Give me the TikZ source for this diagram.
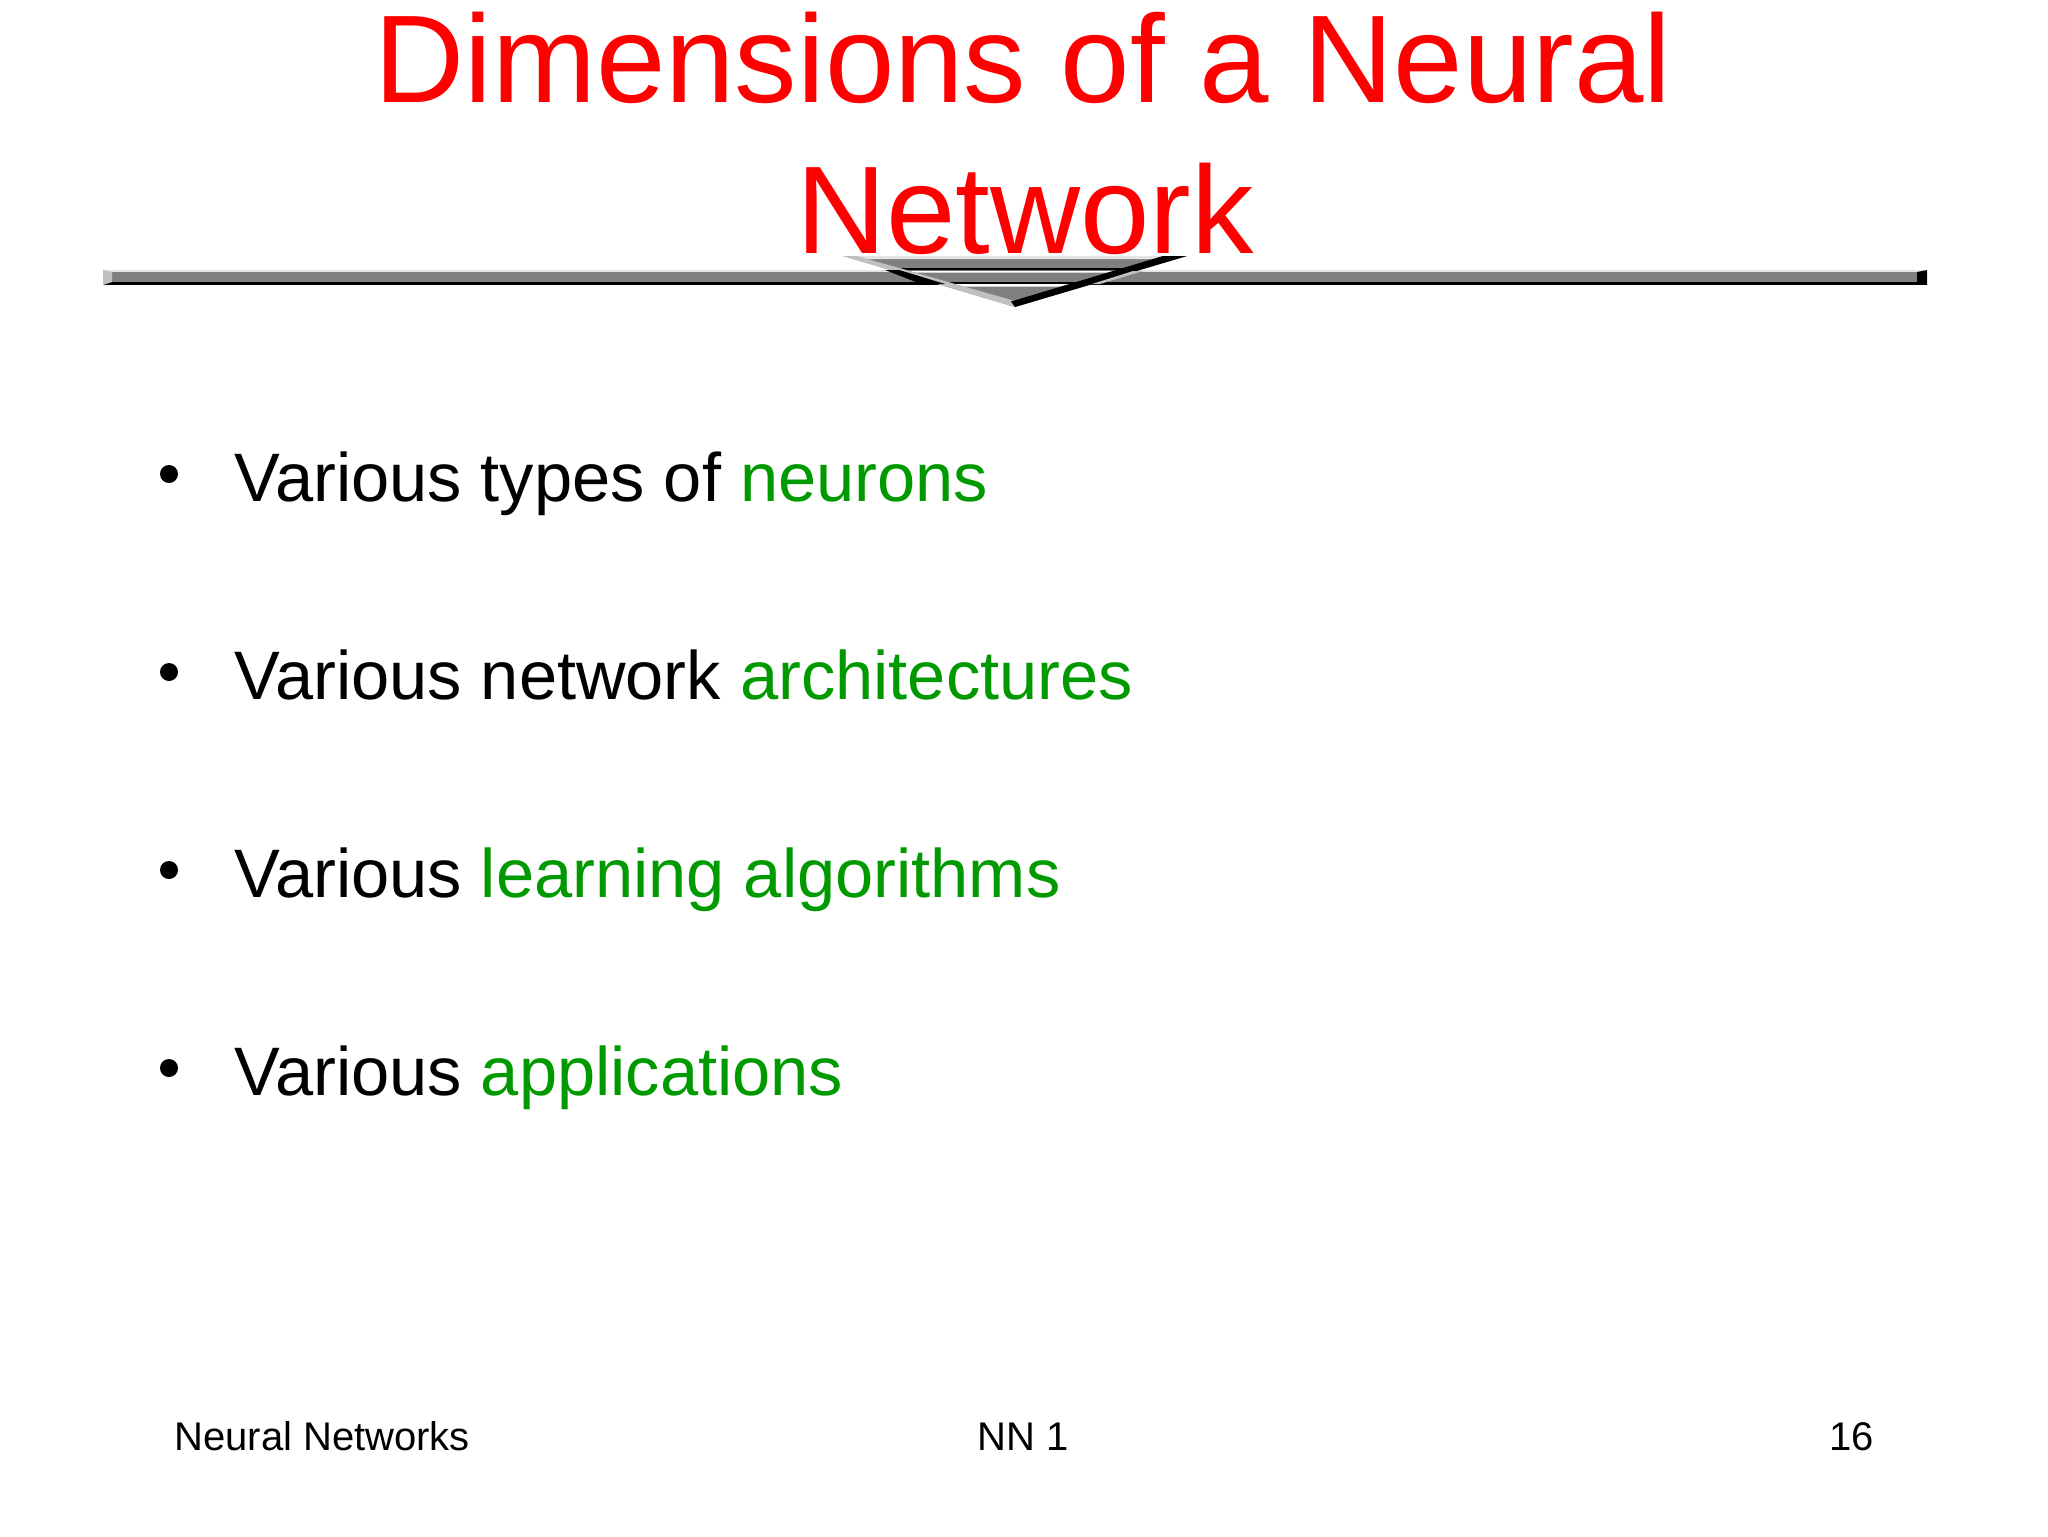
\documentclass[tikz,border=0pt]{standalone}
\usepackage{fontspec}
\setmainfont{Liberation Sans}
\definecolor{barg}{HTML}{808080}
\definecolor{lite}{HTML}{C0C0C0}
\definecolor{pale}{HTML}{E4E4E4}
\definecolor{grn}{HTML}{009900}
\tikzset{
  titletext/.style={anchor=base,text=red,font=\fontsize{62.4}{62.4}\selectfont,inner sep=0pt},
  bodytext/.style={anchor=base west,font=\fontsize{34.3}{34.3}\selectfont,inner sep=0pt},
  foottext/.style={anchor=base,font=\fontsize{20}{20}\selectfont,inner sep=0pt},
  bulletmark/.style={circle,fill=black,inner sep=0pt,minimum size=9pt}
}
\begin{document}
\begin{tikzpicture}[x=0.5pt,y=-0.5pt]
\useasboundingbox (0,0) rectangle (2048,1536);
\node[titletext] (t1) at (1023,103) {Dimensions of a Neural};
\node[titletext] (t2) at (1025,253) {Network};
% rule bar
\fill[barg] (103,270) rectangle (1927,285);
\fill[pale] (103,270) rectangle (1927,272);
\fill[black] (103,282) rectangle (1927,285);
\fill[lite] (103,270) -- (112,272) -- (112,282) -- (103,285) -- cycle;
\fill[black] (1927,270) -- (1917,272) -- (1917,282) -- (1927,285) -- cycle;
% triangle
\fill[barg] (843,256) -- (1187,256) -- (1015,307) -- cycle;
\fill[pale] (843,256) -- (1187,256) -- (1157,259) -- (866,259) -- cycle;
% bar seen through the triangle
\fill[black] (900,268) -- (1133,268) -- (1125,270.5) -- (908,270.5) -- cycle;
\fill[white] (908,270.5) -- (1125,270.5) -- (1120,272.5) -- (915,272.5) -- cycle;
\fill[black] (940,282) -- (1090,282) -- (1084,284) -- (946,284) -- cycle;
\fill[white] (946,284) -- (1084,284) -- (1076,286.5) -- (956,286.5) -- cycle;
% triangle edges
\fill[lite] (843,256) -- (1015,307) -- (1015,301) -- (857,256) -- cycle;
\fill[black] (1187,256) -- (1015,307) -- (1011,301.5) -- (1163,256) -- cycle;
\fill[black] (885,270) -- (899,270) -- (945,284) -- (921,284) -- cycle;
\fill[lite] (1143,271) -- (1133,271) -- (1092,284) -- (1100,284) -- cycle;
% body
\node[bulletmark] (b1) at (169,474) {};
\node[bodytext] (l1) at (234,501) {Various types of \textcolor{grn}{neurons}};
\node[bulletmark] (b2) at (169,672) {};
\node[bodytext] (l2) at (234,699) {Various network \textcolor{grn}{architectures}};
\node[bulletmark] (b3) at (169,870) {};
\node[bodytext] (l3) at (234,897) {Various \textcolor{grn}{learning algorithms}};
\node[bulletmark] (b4) at (169,1068) {};
\node[bodytext] (l4) at (234,1095) {Various \textcolor{grn}{applications}};
% footer
\node[foottext,anchor=base west] (f1) at (174,1450) {Neural Networks};
\node[foottext] (f2) at (1023,1450) {NN 1};
\node[foottext,anchor=base east] (f3) at (1874,1450) {16};
\end{tikzpicture}
\end{document}
